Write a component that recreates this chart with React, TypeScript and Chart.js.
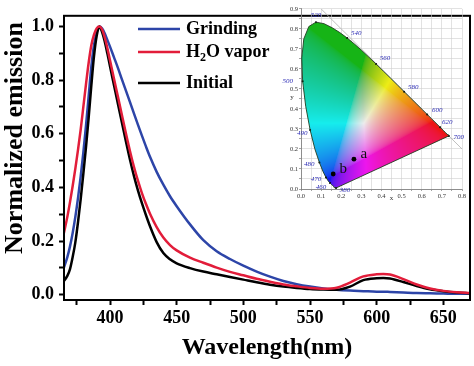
import React, { useEffect, useRef } from 'react';
import { Chart, registerables } from 'chart.js';

Chart.register(...registerables);

// ---------------- Main emission spectra data ----------------
const WAVELENGTH = [365, 368, 370, 372, 374, 376, 378, 380, 382, 384, 386, 388, 390, 392, 394, 396, 398, 400, 403, 406, 409, 412, 415, 418, 421, 424, 427, 430, 435, 440, 445, 450, 460, 470, 480, 490, 500, 510, 520, 530, 540, 550, 560, 570, 580, 590, 600, 605, 610, 620, 630, 640, 650, 660, 670];
const GRINDING = [0.095, 0.14, 0.18, 0.23, 0.29, 0.36, 0.44, 0.53, 0.63, 0.74, 0.85, 0.93, 0.978, 1.0, 0.993, 0.975, 0.95, 0.925, 0.885, 0.845, 0.802, 0.76, 0.718, 0.675, 0.633, 0.592, 0.552, 0.514, 0.458, 0.41, 0.367, 0.33, 0.262, 0.203, 0.162, 0.133, 0.108, 0.086, 0.067, 0.051, 0.039, 0.03, 0.023, 0.018, 0.015, 0.013, 0.011, 0.011, 0.01, 0.008, 0.006, 0.005, 0.004, 0.003, 0.003];
const H2O_VAPOR = [0.22, 0.29, 0.345, 0.405, 0.47, 0.54, 0.615, 0.7, 0.785, 0.865, 0.93, 0.97, 0.993, 1.0, 0.99, 0.96, 0.92, 0.874, 0.805, 0.737, 0.668, 0.6, 0.535, 0.476, 0.424, 0.378, 0.338, 0.302, 0.252, 0.213, 0.185, 0.165, 0.138, 0.119, 0.101, 0.085, 0.072, 0.059, 0.048, 0.038, 0.031, 0.025, 0.022, 0.026, 0.045, 0.068, 0.076, 0.077, 0.075, 0.058, 0.038, 0.023, 0.014, 0.009, 0.006];
const INITIAL = [0.048, 0.07, 0.095, 0.14, 0.195, 0.27, 0.355, 0.45, 0.55, 0.66, 0.78, 0.89, 0.965, 1.0, 0.98, 0.945, 0.9, 0.852, 0.781, 0.71, 0.64, 0.57, 0.503, 0.442, 0.388, 0.34, 0.296, 0.255, 0.196, 0.155, 0.132, 0.117, 0.099, 0.086, 0.076, 0.066, 0.056, 0.046, 0.037, 0.03, 0.025, 0.021, 0.019, 0.018, 0.03, 0.054, 0.061, 0.062, 0.06, 0.047, 0.032, 0.02, 0.013, 0.008, 0.005];

const SERIES_LABELS = ['Grinding', 'H₂O vapor', 'Initial'];
const SERIES_COLORS = ['#2d45a8', '#e21d3a', '#000000'];

const X_TICKS = [375, 400, 425, 450, 475, 500, 525, 550, 575, 600, 625, 650];
const X_LABELS = [400, 450, 500, 550, 600, 650];
const Y_TICKS = [0, 0.1, 0.2, 0.3, 0.4, 0.5, 0.6, 0.7, 0.8, 0.9, 1.0];
const Y_LABELS = ['0.0', '', '0.2', '', '0.4', '', '0.6', '', '0.8', '', '1.0'];

// ---------------- Inset (CIE 1931) data ----------------
const LOCUS_NM = [380, 400, 420, 430, 440, 450, 455, 460, 465, 470, 475, 480, 485, 490, 495, 500, 505, 510, 515, 520, 525, 530, 535, 540, 545, 550, 555, 560, 565, 570, 575, 580, 585, 590, 595, 600, 605, 610, 620, 630, 640, 650, 660, 680, 700];
const LOCUS_X = [0.1741, 0.1733, 0.1714, 0.1689, 0.1644, 0.1566, 0.151, 0.144, 0.1355, 0.1241, 0.1096, 0.0913, 0.0687, 0.0454, 0.0235, 0.0082, 0.0039, 0.0139, 0.0389, 0.0743, 0.1142, 0.1547, 0.1929, 0.2296, 0.2658, 0.3016, 0.3373, 0.3731, 0.4087, 0.4441, 0.4788, 0.5125, 0.5448, 0.5752, 0.6029, 0.627, 0.6482, 0.6658, 0.6915, 0.7079, 0.719, 0.726, 0.73, 0.7334, 0.7347];
const LOCUS_Y = [0.005, 0.0048, 0.0051, 0.0069, 0.0109, 0.0177, 0.0227, 0.0297, 0.0399, 0.0578, 0.0868, 0.1327, 0.2007, 0.295, 0.4127, 0.5384, 0.6548, 0.7502, 0.812, 0.8338, 0.8262, 0.8059, 0.7816, 0.7543, 0.7243, 0.6923, 0.6589, 0.6245, 0.5896, 0.5547, 0.5202, 0.4866, 0.4544, 0.4242, 0.3965, 0.3725, 0.3514, 0.334, 0.3083, 0.292, 0.2809, 0.274, 0.27, 0.2666, 0.2653];
const MARKED_NM = [520, 540, 560, 580, 600, 620, 700, 500, 490, 480, 470, 460, 380];
const MARK_DX = [0, 9, 9, 9, 10, 7, 10, -15, -8, -10, -10, -9, 9];
const MARK_DY = [-7, -5, -6, -4, -4, -5, 1, 0, 3, 2, 2, 4, 2];
const SAMPLE_NAMES = ['a', 'b'];
const SAMPLE_X = [0.263, 0.16];
const SAMPLE_Y = [0.149, 0.075];
const INSET_TICKS_X = [0, 0.05, 0.1, 0.15, 0.2, 0.25, 0.3, 0.35, 0.4, 0.45, 0.5, 0.55, 0.6, 0.65, 0.7, 0.75, 0.8];
const INSET_TICKS_Y = [0, 0.05, 0.1, 0.15, 0.2, 0.25, 0.3, 0.35, 0.4, 0.45, 0.5, 0.55, 0.6, 0.65, 0.7, 0.75, 0.8, 0.85, 0.9];

const SERIF = "'Liberation Serif', 'Times New Roman', serif";

function drawRich(ctx: CanvasRenderingContext2D, text: string, x: number, y: number) {
  let cx = x;
  for (const ch of text) {
    if (ch === '₂') {
      ctx.font = `bold 12px ${SERIF}`;
      ctx.fillText('2', cx, y + 6);
      cx += ctx.measureText('2').width;
    } else {
      ctx.font = `bold 18px ${SERIF}`;
      ctx.fillText(ch, cx, y);
      cx += ctx.measureText(ch).width;
    }
  }
}

const frameAndLegend = {
  id: 'frameAndLegend',
  afterDatasetsDraw(chart: any) {
    const { ctx, chartArea: a } = chart;
    ctx.save();
    ctx.strokeStyle = '#000';
    ctx.lineWidth = 2;
    ctx.strokeRect(a.left, a.top, a.right - a.left, a.bottom - a.top);
    const rows = [29, 52, 83];
    SERIES_LABELS.forEach((lab, i) => {
      const y = rows[i];
      ctx.strokeStyle = SERIES_COLORS[i];
      ctx.lineWidth = 2.5;
      ctx.beginPath();
      ctx.moveTo(a.left + 74, y);
      ctx.lineTo(a.left + 116, y);
      ctx.stroke();
      ctx.fillStyle = '#000';
      ctx.textBaseline = 'middle';
      ctx.textAlign = 'left';
      drawRich(ctx, lab, a.left + 122, y);
    });
    // y axis title
    ctx.translate(15, 138);
    ctx.rotate(-Math.PI / 2);
    ctx.font = `bold 26px ${SERIF}`;
    ctx.textAlign = 'center';
    ctx.textBaseline = 'middle';
    ctx.fillStyle = '#000';
    ctx.fillText('Normalized emission', 0, 0);
    ctx.restore();
  },
};

function xyToRgb(cx: number, cy: number): [number, number, number] {
  if (cy <= 0.0001) cy = 0.0001;
  const Y = 1;
  const X = (cx / cy) * Y;
  const Z = ((1 - cx - cy) / cy) * Y;
  let r = 3.2406 * X - 1.5372 * Y - 0.4986 * Z;
  let g = -0.9689 * X + 1.8758 * Y + 0.0415 * Z;
  let b = 0.0557 * X - 0.204 * Y + 1.057 * Z;
  r = Math.max(0, r); g = Math.max(0, g); b = Math.max(0, b);
  const m = Math.max(r, g, b) || 1;
  r /= m; g /= m; b /= m;
  // tame the dominant pure green so the diagram looks like a printed one
  const other = Math.max(r, b);
  if (g > other) g = g - 0.5 * (g - other);
  const gam = (c: number) => (c <= 0.0031308 ? 12.92 * c : 1.055 * Math.pow(c, 1 / 2.4) - 0.055);
  const f = (c: number) => 22 + gam(c) * 215;
  return [f(r), f(g), f(b)];
}

const cieFill = {
  id: 'cieFill',
  beforeDatasetsDraw(chart: any) {
    const { ctx, chartArea: a, scales } = chart;
    const xs = scales.x, ys = scales.y;
    const w = Math.ceil(a.right - a.left), h = Math.ceil(a.bottom - a.top);
    const off = document.createElement('canvas');
    off.width = w; off.height = h;
    const octx = off.getContext('2d')!;
    const img = octx.createImageData(w, h);
    for (let j = 0; j < h; j++) {
      const vy = ys.getValueForPixel(a.top + j + 0.5);
      for (let i = 0; i < w; i++) {
        const vx = xs.getValueForPixel(a.left + i + 0.5);
        const [r, g, b] = xyToRgb(vx, vy);
        const k = (j * w + i) * 4;
        img.data[k] = r; img.data[k + 1] = g; img.data[k + 2] = b; img.data[k + 3] = 255;
      }
    }
    octx.putImageData(img, 0, 0);
    ctx.save();
    ctx.beginPath();
    LOCUS_X.forEach((vx, k) => {
      const px = xs.getPixelForValue(vx), py = ys.getPixelForValue(LOCUS_Y[k]);
      if (k === 0) ctx.moveTo(px, py); else ctx.lineTo(px, py);
    });
    ctx.closePath();
    ctx.clip();
    ctx.drawImage(off, a.left, a.top);
    ctx.restore();
  },
  afterDatasetsDraw(chart: any) {
    const { ctx, chartArea: a, scales } = chart;
    const xs = scales.x, ys = scales.y;
    ctx.save();
    ctx.font = `italic 7px ${SERIF}`;
    ctx.fillStyle = '#2b2bb5';
    ctx.textAlign = 'center';
    ctx.textBaseline = 'middle';
    MARKED_NM.forEach((nm, i) => {
      const k = LOCUS_NM.indexOf(nm);
      const px = xs.getPixelForValue(LOCUS_X[k]), py = ys.getPixelForValue(LOCUS_Y[k]);
      ctx.fillText(String(nm), px + MARK_DX[i], py + MARK_DY[i]);
    });
    ctx.font = `15px ${SERIF}`;
    ctx.fillStyle = '#111';
    SAMPLE_NAMES.forEach((n, i) => {
      const px = xs.getPixelForValue(SAMPLE_X[i]), py = ys.getPixelForValue(SAMPLE_Y[i]);
      ctx.fillText(n, px + 10, py - 5);
    });
    ctx.font = `7px ${SERIF}`;
    ctx.fillStyle = '#333';
    ctx.fillText('x', xs.getPixelForValue(0.45), a.bottom + 9);
    ctx.fillText('y', a.left - 9, ys.getPixelForValue(0.46));
    ctx.restore();
  },
};

export default function App() {
  const mainRef = useRef<HTMLCanvasElement>(null);
  const insetRef = useRef<HTMLCanvasElement>(null);

  useEffect(() => {
    document.body.style.margin = '0';
    const tickFont = { family: SERIF, size: 18, weight: 'bold' as const };
    const main = new Chart(mainRef.current!, {
      type: 'line',
      data: {
        labels: WAVELENGTH,
        datasets: [
          { label: SERIES_LABELS[0], data: WAVELENGTH.map((x, i) => ({ x, y: GRINDING[i] })), borderColor: SERIES_COLORS[0], order: 2 },
          { label: SERIES_LABELS[1], data: WAVELENGTH.map((x, i) => ({ x, y: H2O_VAPOR[i] })), borderColor: SERIES_COLORS[1], order: 0 },
          { label: SERIES_LABELS[2], data: WAVELENGTH.map((x, i) => ({ x, y: INITIAL[i] })), borderColor: SERIES_COLORS[2], order: 1 },
        ].map((d) => ({ ...d, borderWidth: 2.5, pointRadius: 0, fill: false, cubicInterpolationMode: 'monotone' as const })),
      },
      options: {
        animation: false,
        responsive: false,
        maintainAspectRatio: false,
        layout: { padding: { top: 3, right: 4, left: 0, bottom: 0 } },
        plugins: { legend: { display: false }, tooltip: { enabled: false } },
        scales: {
          x: {
            type: 'linear',
            min: 365.5,
            max: 670,
            afterBuildTicks: (s: any) => { s.ticks = X_TICKS.map((v) => ({ value: v })); },
            afterFit: (s: any) => { s.height = 66; },
            grid: { drawOnChartArea: false, drawTicks: true, tickLength: 5, tickColor: '#000', tickWidth: 2 },
            border: { color: '#000', width: 2 },
            ticks: {
              autoSkip: false, maxRotation: 0, padding: 3, color: '#000', font: tickFont,
              callback: (v: any) => (X_LABELS.includes(Number(v)) ? String(v) : ''),
            },
            title: { display: true, text: 'Wavelength(nm)', color: '#000', font: { family: SERIF, size: 24, weight: 'bold' }, padding: { top: 0, bottom: 4 } },
          },
          y: {
            min: -0.02,
            max: 1.04,
            afterBuildTicks: (s: any) => { s.ticks = Y_TICKS.map((v) => ({ value: v })); },
            afterFit: (s: any) => { s.width = 64; },
            grid: { drawOnChartArea: false, drawTicks: true, tickLength: 5, tickColor: '#000', tickWidth: 2 },
            border: { color: '#000', width: 2 },
            ticks: {
              autoSkip: false, padding: 5, color: '#000', font: tickFont,
              callback: (_v: any, i: number) => Y_LABELS[i],
            },
          },
        },
      },
      plugins: [frameAndLegend],
    } as any);

    const smallFont = { family: SERIF, size: 6.5 };
    const inset = new Chart(insetRef.current!, {
      type: 'scatter',
      data: {
        datasets: [
          {
            label: 'locus',
            data: [...LOCUS_X.map((x, i) => ({ x, y: LOCUS_Y[i] })), { x: LOCUS_X[0], y: LOCUS_Y[0] }],
            showLine: true, borderColor: '#1f3d1f', borderWidth: 0.9, pointRadius: 0,
          },
          {
            label: 'marks',
            data: MARKED_NM.map((nm) => { const k = LOCUS_NM.indexOf(nm); return { x: LOCUS_X[k], y: LOCUS_Y[k] }; }),
            pointRadius: 1, backgroundColor: '#000', borderColor: '#000', borderWidth: 0,
          },
          {
            label: 'x+y=1',
            data: [{ x: 0.1, y: 0.9 }, { x: 0.8, y: 0.2 }],
            showLine: true, borderColor: '#b0b0b0', borderWidth: 0.8, pointRadius: 0,
          },
          {
            label: 'samples',
            data: SAMPLE_X.map((x, i) => ({ x, y: SAMPLE_Y[i] })),
            pointRadius: 2.4, backgroundColor: '#000', borderColor: '#000', borderWidth: 0,
          },
        ],
      },
      options: {
        animation: false,
        responsive: false,
        maintainAspectRatio: false,
        layout: { padding: { top: 4, right: 8, left: 0, bottom: 0 } },
        plugins: { legend: { display: false }, tooltip: { enabled: false } },
        scales: {
          x: {
            type: 'linear', min: 0, max: 0.8,
            afterBuildTicks: (s: any) => { s.ticks = INSET_TICKS_X.map((v) => ({ value: v })); },
            afterFit: (s: any) => { s.height = 15; },
            grid: { color: '#cfcfcf', lineWidth: 0.6, tickLength: 2, tickColor: '#666' },
            border: { color: '#777', width: 0.8 },
            ticks: { autoSkip: false, maxRotation: 0, padding: 1, color: '#333', font: smallFont,
              callback: (v: any, i: number) => (i % 2 === 0 ? Number(v).toFixed(1) : '') },
          },
          y: {
            type: 'linear', min: 0, max: 0.9,
            afterBuildTicks: (s: any) => { s.ticks = INSET_TICKS_Y.map((v) => ({ value: v })); },
            afterFit: (s: any) => { s.width = 23; },
            grid: { color: '#cfcfcf', lineWidth: 0.6, tickLength: 2, tickColor: '#666' },
            border: { color: '#777', width: 0.8 },
            ticks: { autoSkip: false, padding: 1, color: '#333', font: smallFont,
              callback: (v: any, i: number) => (i % 2 === 0 ? Number(v).toFixed(1) : '') },
          },
        },
      },
      plugins: [cieFill],
    } as any);

    return () => { main.destroy(); inset.destroy(); };
  }, []);

  return (
    <div style={{ position: 'relative', width: 474, height: 366, background: '#fff' }}>
      <canvas ref={mainRef} width={474} height={366} style={{ display: 'block' }} />
      <canvas ref={insetRef} width={192} height={200} style={{ position: 'absolute', left: 278, top: 4 }} />
    </div>
  );
}
